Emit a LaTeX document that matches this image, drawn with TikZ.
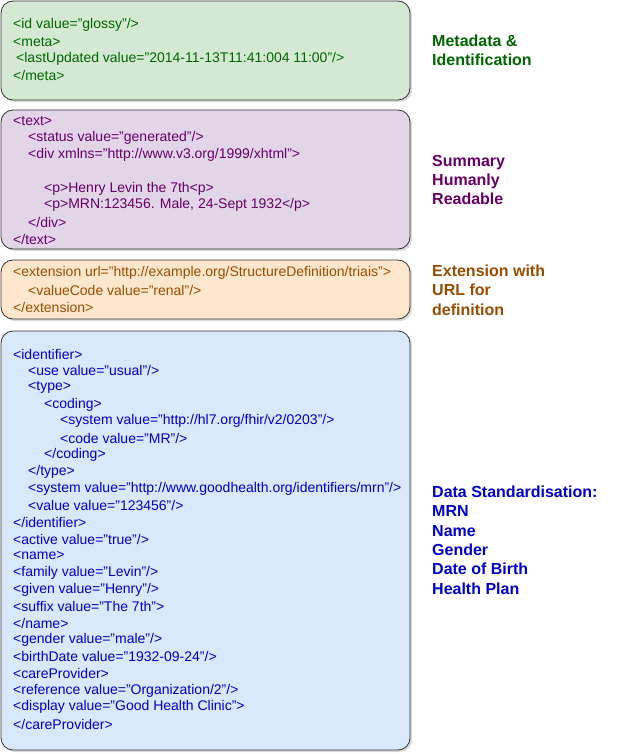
\documentclass[tikz,border=0pt]{standalone}
\usepackage{fontspec}
\setmainfont{Liberation Sans}
\usetikzlibrary{shadows}
\definecolor{gfill}{HTML}{D5E8D4}\definecolor{gtxt}{HTML}{006600}
\definecolor{pfill}{HTML}{E1D5E7}\definecolor{ptxt}{HTML}{660066}
\definecolor{ofill}{HTML}{FFE6CC}\definecolor{otxt}{HTML}{994C00}
\definecolor{bfill}{HTML}{DAE8FC}\definecolor{btxt}{HTML}{0000CC}
\begin{document}
\begin{tikzpicture}[x=1pt,y=-1pt,
 box/.style={draw=black!80,line width=0.8pt,rounded corners=12pt,drop shadow={shadow xshift=2pt,shadow yshift=-2pt,opacity=0.3}},
 ln/.style={anchor=west,inner sep=0pt,font=\fontsize{14}{16}\selectfont},
 lab/.style={anchor=west,inner sep=0pt,align=left,font=\fontsize{16}{19.4}\selectfont\bfseries}]
\useasboundingbox (0,0) rectangle (621,754);
\filldraw[box,fill=gfill] (1,1) rectangle (410,100);
\filldraw[box,fill=pfill] (1,110) rectangle (410,249);
\filldraw[box,fill=ofill] (1,260) rectangle (410,319);
\filldraw[box,fill=bfill] (1,331) rectangle (410,750);
\begin{scope}[every node/.style={ln,text=gtxt}]
\node (g1) at (13,25) {<id value="glossy"/>};
\node (g2) at (13,42) {<meta>};
\node (g3) at (16,59) {<lastUpdated value="2014-11-13T11:41:004 11:00"/>};
\node (g4) at (13,75) {</meta>};
\end{scope}
\begin{scope}[every node/.style={ln,text=ptxt}]
\node (p1) at (13,121) {<text>};
\node (p2) at (28,138) {<status value="generated"/>};
\node (p3) at (28,155) {<div xmlns="http://www.v3.org/1999/xhtml">};
\node (p4) at (44,189) {<p>Henry Levin the 7th<p>};
\node (p5) at (44,205) {<p>MRN:123456. Male, 24-Sept 1932</p>};
\node (p6) at (28,222) {</div>};
\node (p7) at (13,239) {</text>};
\end{scope}
\begin{scope}[every node/.style={ln,text=otxt}]
\node (o1) at (13,273) {<extension url="http://example.org/StructureDefinition/triais">};
\node (o2) at (28,290) {<valueCode value="renal"/>};
\node (o3) at (13,307) {</extension>};
\end{scope}
\begin{scope}[every node/.style={ln,text=btxt}]
\def\s{16.82}
\node (b1) at (13,354+0*\s) {<identifier>};
\node (b2) at (28,354+1*\s) {<use value="usual"/>};
\node (b3) at (28,354+2*\s) {<type>};
\node (b4) at (44,354+3*\s) {<coding>};
\node (b5) at (60,354+4*\s) {<system value="http://hl7.org/fhir/v2/0203"/>};
\node (b6) at (60,354+5*\s) {<code value="MR"/>};
\node (b7) at (44,354+6*\s) {</coding>};
\node (b8) at (28,354+7*\s) {</type>};
\node (b9) at (28,354+8*\s) {<system value="http://www.goodhealth.org/identifiers/mrn"/>};
\node (b10) at (28,354+9*\s) {<value value="123456"/>};
\node (b11) at (13,354+10*\s) {</identifier>};
\node (b12) at (13,354+11*\s) {<active value="true"/>};
\node (b13) at (13,354+12*\s) {<name>};
\node (b14) at (13,354+13*\s) {<family value="Levin"/>};
\node (b15) at (13,354+14*\s) {<given value="Henry"/>};
\node (b16) at (13,354+15*\s) {<suffix value="The 7th">};
\node (b17) at (13,354+16*\s) {</name>};
\node (b18) at (13,354+17*\s) {<gender value="male"/>};
\node (b19) at (13,354+18*\s) {<birthDate value="1932-09-24"/>};
\node (b20) at (13,354+19*\s) {<careProvider>};
\node (b21) at (13,354+20*\s) {<reference value="Organization/2"/>};
\node (b22) at (13,354+21*\s) {<display value="Good Health Clinic">};
\node (b23) at (13,354+22*\s) {</careProvider>};
\end{scope}
\node[lab,text=gtxt] (L1) at (432,50.5) {Metadata \&\\Identification};
\node[lab,text=ptxt] (L2) at (432,180) {Summary\\Humanly\\Readable};
\node[lab,text=otxt] (L3) at (432,290) {Extension with\\URL for\\definition};
\node[lab,text=btxt] (L4) at (432,540) {Data Standardisation:\\MRN\\Name\\Gender\\Date of Birth\\Health Plan};
\end{tikzpicture}
\end{document}
